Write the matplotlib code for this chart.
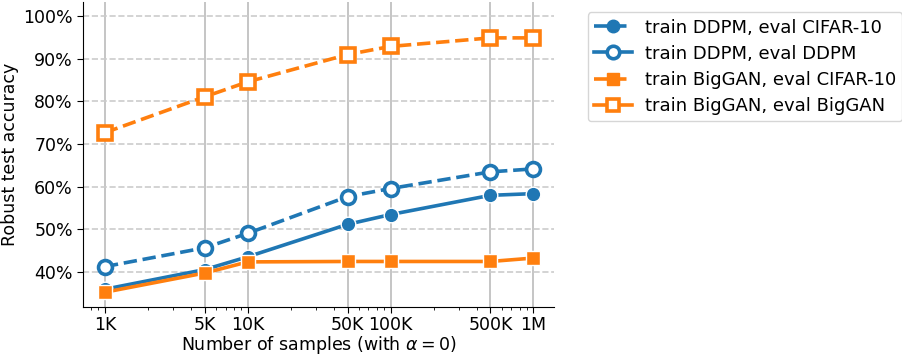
import numpy as np
import matplotlib.pyplot as plt
from matplotlib.lines import Line2D
from matplotlib.ticker import FixedLocator, FixedFormatter, FuncFormatter

# данные
samples = [1e3, 5e3, 1e4, 5e4, 1e5, 5e5, 1e6]
tick_labels = ['1K', '5K', '10K', '50K', '100K', '500K', '1M']

ddpm_cifar = [36.0, 40.6, 43.6, 51.2, 53.5, 58.0, 58.4]
ddpm_ddpm = [41.3, 45.7, 49.1, 57.7, 59.6, 63.5, 64.2]
biggan_cifar = [35.3, 39.8, 42.4, 42.5, 42.5, 42.5, 43.3]
biggan_biggan = [72.7, 81.1, 84.6, 91.0, 92.9, 94.9, 94.9]

labels = ['train DDPM, eval CIFAR-10', 'train DDPM, eval DDPM',
          'train BigGAN, eval CIFAR-10', 'train BigGAN, eval BigGAN']

blue = '#1f77b4'
orange = '#ff7f0e'

plt.rcParams['font.size'] = 12.5

fig = plt.figure(figsize=(9.03, 3.58), dpi=100)
ax = fig.add_axes([0.0922, 0.1433, 0.5216, 0.851])

lw = 2.6
ms = 10.5
ax.plot(samples, ddpm_cifar, '-', color=blue, lw=lw, marker='o', ms=ms,
        mfc=blue, mec='white', mew=1.0, zorder=3)
ax.plot(samples, ddpm_ddpm, '--', color=blue, lw=lw, marker='o', ms=ms - 0.5,
        mfc='white', mec=blue, mew=2.6, zorder=3)
ax.plot(samples, biggan_cifar, '-', color=orange, lw=lw, marker='s', ms=ms,
        mfc=orange, mec='white', mew=1.0, zorder=4)
ax.plot(samples, biggan_biggan, '--', color=orange, lw=lw, marker='s', ms=ms - 0.5,
        mfc='white', mec=orange, mew=2.6, zorder=3)

ax.set_xscale('log')
ax.set_xlim(705, 1.40e6)
ax.set_ylim(31.9, 103.3)
ax.xaxis.set_major_locator(FixedLocator(samples))
ax.xaxis.set_major_formatter(FixedFormatter(tick_labels))
ax.set_yticks([40, 50, 60, 70, 80, 90, 100])
ax.yaxis.set_major_formatter(FuncFormatter(lambda v, p: '%d%%' % v))

ax.grid(axis='x', color='#bbbbbb', lw=1.2, ls='-', zorder=0)
ax.grid(axis='y', color='#cccccc', lw=1.2, ls='--', zorder=0)
ax.spines['top'].set_visible(False)
ax.spines['right'].set_visible(False)
ax.tick_params(axis='both', which='major', length=4)
ax.tick_params(axis='x', which='major', pad=3)

ax.set_xlabel('Number of samples (with $\\alpha = 0$)', labelpad=0)
ax.set_ylabel('Robust test accuracy', labelpad=3)

# легенда (стили как на исходной картинке)
lms = 9
handles = [
    Line2D([], [], ls='--', color=blue, lw=lw, marker='o', ms=lms, mfc=blue, mec=blue),
    Line2D([], [], ls='-', color=blue, lw=lw, marker='o', ms=lms, mfc='white', mec=blue, mew=2.6),
    Line2D([], [], ls='--', color=orange, lw=lw, marker='s', ms=lms, mfc=orange, mec=orange),
    Line2D([], [], ls='-', color=orange, lw=lw, marker='s', ms=lms, mfc='white', mec=orange, mew=2.6),
]
leg = ax.legend(handles, labels, loc='upper left', bbox_to_anchor=(587.7 / 903, 1 - 12.3 / 358),
                bbox_transform=fig.transFigure, borderaxespad=0, borderpad=0.35,
                handlelength=2.1, handletextpad=0.7, labelspacing=0.45, fontsize=13)

fig.savefig('out.png', dpi=100)
